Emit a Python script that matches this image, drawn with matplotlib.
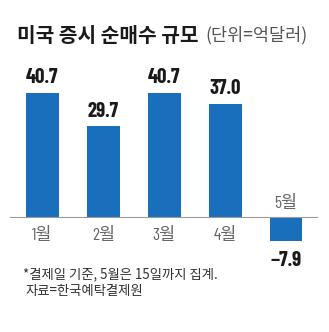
import matplotlib
matplotlib.use("Agg")
from matplotlib import pyplot as plt

# Monthly net purchases of US stocks (unit: 100M USD)
months = ["1월", "2월", "3월", "4월", "5월"]
values = [40.7, 29.7, 40.7, 37.0, -7.9]
value_labels = ["40.7", "29.7", "40.7", "37.0", "\u22127.9"]

BAR_COLOR = "#1a6fbd"
KR_FONT = ["Noto Sans CJK KR", "DejaVu Sans"]
NUM_FONT = ["Barlow Condensed", "Noto Sans CJK KR", "DejaVu Sans"]

W, H = 329, 332
fig = plt.figure(figsize=(W / 100, H / 100), dpi=100)
fig.patch.set_facecolor("white")

# axes placed in pixel terms: x 10..318, y 60..250 from top
ax = fig.add_axes([10 / W, (H - 250) / H, 308 / W, 190 / H])
ax.set_xlim(-0.533, 4.525)
ax.set_ylim(-10.8, 51.5)
ax.axis("off")

x = list(range(len(values)))
ax.bar(x, values, width=0.54, color=BAR_COLOR, zorder=2)
ax.axhline(0, color="#9a9a9a", linewidth=0.8, zorder=3)

for i, (v, lab, m) in enumerate(zip(values, value_labels, months)):
    if v >= 0:
        ax.text(i, v + 3.2, lab, ha="center", va="baseline", fontsize=15,
                fontweight="bold", family=NUM_FONT, color="#1a1a1a")
        ax.text(i, -7.5, m, ha="center", va="baseline", fontsize=12.5,
                family=NUM_FONT, color="#666666")
    else:
        ax.text(i, v - 8.2, lab, ha="center", va="baseline", fontsize=15,
                fontweight="bold", family=NUM_FONT, color="#1a1a1a")
        ax.text(i, 2.95, m, ha="center", va="baseline", fontsize=12.5,
                family=NUM_FONT, color="#666666")

# title
fig.text(17 / W, 1 - 35 / H, "미국 증시 순매수 규모", ha="left", va="center",
         fontsize=14.6, fontweight="bold", family=KR_FONT, color="#1a1a1a")
fig.text(205 / W, 1 - 35 / H, "(단위=억달러)", ha="left", va="center",
         fontsize=12.6, family=KR_FONT, color="#555555")

# footnote
fig.text(23 / W, 1 - 274 / H, "*결제일 기준, 5월은 15일까지 집계.", ha="left",
         va="center", fontsize=9.6, family=KR_FONT, color="#333333")
fig.text(26 / W, 1 - 291 / H, "자료=한국예탁결제원", ha="left",
         va="center", fontsize=9.6, family=KR_FONT, color="#333333")

fig.savefig("out.png", dpi=100, facecolor="white")
